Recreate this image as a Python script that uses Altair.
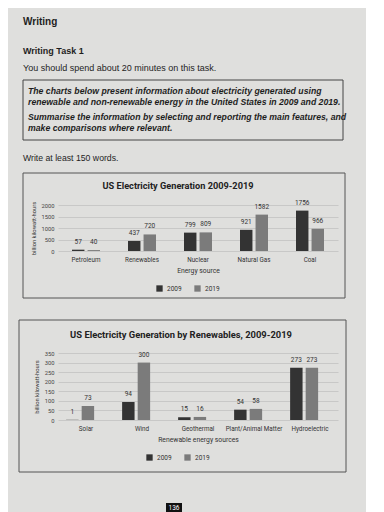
import altair as alt
import pandas as pd

# ---------------- data ----------------
sources = ["Petroleum", "Renewables", "Nuclear", "Natural Gas", "Coal"]
gen_2009 = [57, 437, 799, 921, 1756]
gen_2019 = [40, 720, 809, 1582, 966]

ren_sources = ["Solar", "Wind", "Geothermal", "Plant/Animal Matter", "Hydroelectric"]
ren_2009 = [1, 94, 15, 54, 273]
ren_2019 = [73, 300, 16, 58, 273]

years = ["2009", "2019"]
y_ticks1 = [0, 500, 1000, 1500, 2000]
y_ticks2 = [0, 50, 100, 150, 200, 250, 300, 350]

header_title = "Writing"
task_title = "Writing Task 1"
task_time = "You should spend about 20 minutes on this task."
prompt_lines = [
    "The charts below present information about electricity generated using",
    "renewable and non-renewable energy in the United States in 2009 and 2019.",
    "Summarise the information by selecting and reporting the main features, and",
    "make comparisons where relevant.",
]
word_count = "Write at least 150 words."
page_number = "136"
title1 = "US Electricity Generation 2009-2019"
title2 = "US Electricity Generation by Renewables, 2009-2019"

DARK = "#333333"
GRAY = "#7b7b7b"
BG = "#dfdfdd"
INK = "#1e1e1e"
FONT = "Liberation Sans"
CFONT = "Roboto"

L = -35  # left edge of page text relative to the shared plot origin


def long_df(cats, a, b):
    rows = []
    for c, v1, v2 in zip(cats, a, b):
        rows.append({"cat": c, "year": years[0], "value": v1})
        rows.append({"cat": c, "year": years[1], "value": v2})
    return pd.DataFrame(rows)


one = pd.DataFrame({"k": [0]})


def txt(text, x, y, size, weight="normal", style="normal", color=INK, font=FONT, align="left"):
    return alt.Chart(one).mark_text(text=text, font=font, fontSize=size, fontWeight=weight,
                                    fontStyle=style, align=align, baseline="middle",
                                    color=color).encode(x=alt.value(x), y=alt.value(y))


# ---------------- header ----------------
HW, HH = 304, 156
header_layers = [
    txt(header_title, L, 14, 10, "bold"),
    txt(task_title, L, 43, 9, "bold"),
    txt(task_time, L, 60, 9),
    alt.Chart(one).mark_rect(fill=None, stroke="#444444", strokeWidth=1)
    .encode(x=alt.value(L), x2=alt.value(L + 320), y=alt.value(72), y2=alt.value(132)),
    txt(word_count, L, 150, 8.7),
]
for line, yy in zip(prompt_lines, [83, 94, 109, 120]):
    header_layers.append(txt(line, L + 5, yy, 8.7, "bold", "italic"))
header = alt.layer(*header_layers).properties(width=HW, height=HH)


# ---------------- bar chart builder ----------------
def bar_chart(df, cats, title, title_xy, title_size, xtitle, ticks, ymax, w, h, pad_in, off_pad,
              frame, legend_xy, ytitle_x, extra=None):
    color = alt.Color("year:N", sort=years,
                      scale=alt.Scale(domain=years, range=[DARK, GRAY]),
                      legend=alt.Legend(title=None, orient="none", direction="horizontal",
                                        legendX=legend_xy[0], legendY=legend_xy[1],
                                        symbolType="square", symbolSize=40,
                                        labelFontSize=6.5, labelFont=CFONT, labelColor="#333",
                                        columnPadding=12, symbolStrokeWidth=0))
    base = alt.Chart(df).encode(
        x=alt.X("cat:N", sort=cats,
                scale=alt.Scale(paddingInner=pad_in, paddingOuter=pad_in / 2),
                axis=alt.Axis(title=xtitle, labelAngle=0, ticks=False, domain=False,
                              labelFontSize=6.3, labelFont=CFONT, labelColor="#333",
                              labelPadding=5, titleFontSize=6.8, titleFont=CFONT,
                              titleFontWeight="normal", titleColor="#333", titlePadding=5,
                              grid=False)),
        xOffset=alt.XOffset("year:N", sort=years, scale=alt.Scale(paddingInner=off_pad)),
        y=alt.Y("value:Q", scale=alt.Scale(domain=[0, ymax], nice=False),
                axis=alt.Axis(values=ticks, format="d", title="billion kilowatt-hours",
                              ticks=False, domain=False, labelFontSize=5.8, labelFont=CFONT,
                              labelColor="#444", labelPadding=4, titleFontSize=5.8,
                              titleFont=CFONT, titleFontWeight="normal", titleColor="#333",
                              titleX=ytitle_x, titleY=h / 2, titleAlign="center",
                              titleBaseline="middle", gridColor="#b8b8b8", gridWidth=0.6)),
        color=color,
    )
    bars = base.mark_bar()
    labels = base.mark_text(dy=-8, fontSize=6.5, font=CFONT, baseline="middle").encode(
        text="value:Q", color=alt.value("#333"))
    fr = alt.Chart(one).mark_rect(fill=None, stroke="#555555", strokeWidth=1).encode(
        x=alt.value(frame[0]), x2=alt.value(frame[1]),
        y=alt.value(frame[2]), y2=alt.value(frame[3]))
    ttl = txt(title, title_xy[0], title_xy[1], title_size, "bold", color="#222", font=CFONT,
              align="center")
    layers = [bars, labels, fr, ttl]
    if extra is not None:
        layers += extra
    return alt.layer(*layers).properties(width=w, height=h)


df1 = long_df(sources, gen_2009, gen_2019)
df2 = long_df(ren_sources, ren_2009, ren_2019)

W1, H1 = 280, 46
spacer1 = alt.Chart(one).mark_rect(opacity=0).encode(
    x=alt.value(0), x2=alt.value(10), y=alt.value(100), y2=alt.value(106))
chart1 = bar_chart(df1, sources, title1, (120, -19), 9.2, "Energy source",
                   y_ticks1, 2000, W1, H1, 0.5, 0.2, (-35, 287, -32, 93), (98, 80), -25,
                   extra=[spacer1])

W2, H2 = 280, 67
pn_box = alt.Chart(one).mark_rect(color="#111").encode(
    x=alt.value(108), x2=alt.value(124), y=alt.value(150), y2=alt.value(159))
pn_text = alt.Chart(one).mark_text(text=page_number, color="white", fontSize=6.5, font=CFONT,
                                   baseline="middle", align="center").encode(
    x=alt.value(116), y=alt.value(154.5))
chart2 = bar_chart(df2, ren_sources, title2, (123, -18), 9.4,
                   "Renewable energy sources", y_ticks2, 350, W2, H2, 0.29, 0.22,
                   (-39, 288, -33, 119), (88, 101), -22, extra=[pn_box, pn_text])

chart = alt.vconcat(header, chart1, chart2, spacing=8).resolve_scale(
    color="independent"
).properties(
    padding={"left": 10, "top": 0, "right": 4, "bottom": 0},
    background=BG,
).configure_view(stroke=None)

chart.save("out.html", embed_options={"renderer": "svg", "actions": False})
